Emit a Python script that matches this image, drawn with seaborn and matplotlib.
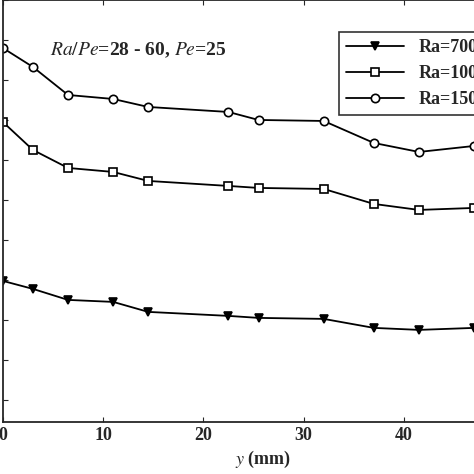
import matplotlib
matplotlib.use("Agg")
import matplotlib.pyplot as plt
import seaborn as sns
import pandas as pd

y_mm = [0, 3, 6.5, 11, 14.5, 22.5, 25.5, 32, 37, 41.5, 47]
ra1500 = [39.2, 37.3, 34.5, 34.1, 33.3, 32.8, 32.0, 31.9, 29.7, 28.8, 29.4]
ra1000 = [31.8, 29.0, 27.2, 26.8, 25.9, 25.4, 25.2, 25.1, 23.6, 23.0, 23.2]
ra700 = [15.9, 15.1, 14.0, 13.8, 12.8, 12.4, 12.2, 12.1, 11.2, 11.0, 11.2]

df = pd.DataFrame({"y": y_mm * 3,
                   "v": ra700 + ra1000 + ra1500,
                   "s": ["Ra=700"] * 11 + ["Ra=1000"] * 11 + ["Ra=1500"] * 11})

sns.set_style("ticks")
plt.rcParams["font.family"] = ["Liberation Serif", "DejaVu Serif"]
plt.rcParams["mathtext.fontset"] = "stix"

fig = plt.figure(figsize=(4.74, 4.74), dpi=100)
ax = fig.add_axes([0.006, 0.11, 1.1, 0.89])

styles = {"Ra=700": dict(marker="v", mfc="black"),
          "Ra=1000": dict(marker="s", mfc="white"),
          "Ra=1500": dict(marker="o", mfc="white")}
for name, st in styles.items():
    sub = df[df.s == name]
    sns.lineplot(data=sub, x="y", y="v", ax=ax, color="black", lw=1.3,
                 marker=st["marker"], markerfacecolor=st["mfc"],
                 markeredgecolor="black", markersize=6, markeredgewidth=1.2,
                 label=name)

ax.set_xlim(0, 52)
ax.set_ylim(1.8, 44)
ax.set_xticks([0, 10, 20, 30, 40, 50])
ax.set_yticks(range(4, 45, 4))
ax.set_yticklabels([])
ax.tick_params(direction="in", top=True, right=True, labelsize=13)
for t in ax.get_xticklabels():
    t.set_fontweight("bold")
for s in ax.spines.values():
    s.set_linewidth(1.3)
ax.set_ylabel("")
ax.set_xlabel(r"$\mathbf{\it{y}}$ (mm)", fontsize=13, fontweight="bold", labelpad=4)
ax.text(0.09, 0.87, r"$\it{Ra/Pe}$=28 - 60, $\it{Pe}$=25", transform=ax.transAxes,
        fontsize=14, fontweight="bold")
leg = ax.legend(loc="upper left", bbox_to_anchor=(0.645, 0.925), frameon=True,
                fancybox=False, edgecolor="black", fontsize=13, handlelength=3.2,
                borderaxespad=0)
for t in leg.get_texts():
    t.set_fontweight("bold")
leg.get_frame().set_linewidth(1.2)

fig.savefig("out.png", dpi=100)
